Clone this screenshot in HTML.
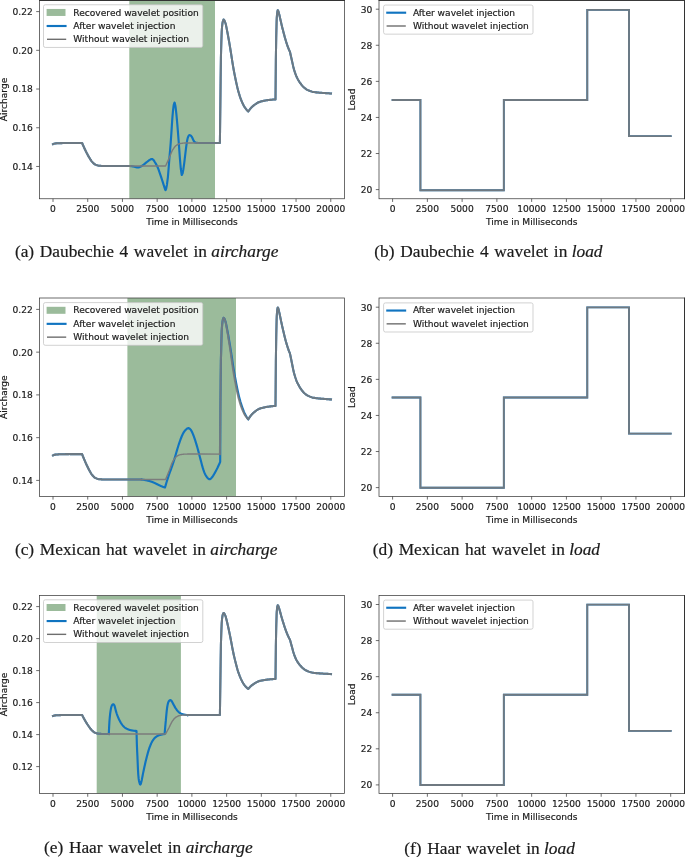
<!DOCTYPE html>
<html lang="en"><head><meta charset="utf-8"><title>Wavelet injection figures</title>
<style>
html,body{margin:0;padding:0;background:#fff;}
#fig{position:relative;width:685px;height:857px;overflow:hidden;background:#fff;}
svg .t, svg g.t text{font-family:"DejaVu Sans","Liberation Sans",sans-serif;font-size:9.1px;fill:#1a1a1a;stroke:#1a1a1a;stroke-width:0.18px;}
.cap{position:absolute;white-space:nowrap;font-family:"Liberation Serif","Times New Roman",serif;font-size:17.35px;line-height:20px;color:#1a1a1a;-webkit-text-stroke:0.2px #1a1a1a;word-spacing:1.3px;}
.cap i{font-style:italic;margin-left:-1.3px;}
</style></head><body><div id="fig">
<svg width="685" height="857" viewBox="0 0 685 857" style="position:absolute;left:0;top:0">
<defs>
<clipPath id="cl0"><rect x="39.4" y="0.45" width="305.20" height="198.30"/></clipPath>
<clipPath id="cl1"><rect x="39.4" y="298.0" width="305.20" height="198.40"/></clipPath>
<clipPath id="cl2"><rect x="39.4" y="595.5" width="305.20" height="198.05"/></clipPath>
</defs>
<g clip-path="url(#cl0)">
<rect x="129.3" y="0.45" width="85.70" height="198.30" fill="#9bbb9b"/>
<path d="M53.00 144.20L53.75 143.84L54.49 143.60L54.50 143.60L55.24 143.48L55.98 143.38L56.73 143.32L57.00 143.30L57.48 143.27L58.22 143.23L58.97 143.19L59.72 143.16L60.46 143.14L61.21 143.12L61.95 143.10L62.00 143.10L62.70 143.09L63.45 143.07L64.19 143.06L64.94 143.05L65.68 143.03L66.43 143.02L67.18 143.02L67.92 143.01L68.67 143.00L69.42 143.00L70.00 143.00L70.16 143.00L70.91 143.00L71.65 143.00L72.40 143.00L73.15 143.00L73.89 143.00L74.64 143.00L75.38 143.00L76.13 143.00L76.88 143.00L77.62 143.00L78.37 143.00L79.12 143.00L79.86 143.00L80.61 143.00L81.35 143.00L82.10 143.00L82.94 145.00L83.79 146.92L84.63 148.77L85.47 150.54L85.90 151.40L86.32 152.23L87.16 153.85L88.01 155.40L88.85 156.87L89.40 157.80L89.69 158.29L90.54 159.67L91.38 160.90L91.70 161.30L92.22 161.90L93.07 162.83L93.91 163.64L94.75 164.27L95.20 164.50L95.60 164.67L96.44 165.00L97.28 165.29L98.13 165.52L98.97 165.69L99.82 165.79L99.90 165.80L100.66 165.85L101.50 165.90L102.35 165.94L103.19 165.97L104.03 165.99L104.88 166.00L105.00 166.00L105.72 166.00L106.56 166.00L107.41 166.00L108.25 166.00L109.09 166.00L109.94 166.00L110.78 166.00L111.63 166.00L112.47 166.00L113.31 166.00L114.16 166.00L115.00 166.00L130.00 166.05" fill="none" stroke="#1074c0" stroke-width="2.05" stroke-linejoin="round" stroke-linecap="square"/>
<path d="M198.00 142.95L198.24 142.95L199.12 142.95L200.00 142.95L219.90 143.00L220.40 100.40L220.63 79.08L220.90 58.00L221.30 43.40L221.36 41.54L221.70 31.80L222.08 26.40L222.50 23.00L222.81 21.50L223.54 19.51L223.60 19.50L224.27 20.17L225.00 21.89L225.40 23.00L225.73 24.06L226.45 27.38L227.18 31.20L227.30 31.80L227.91 34.96L228.64 38.96L229.37 43.12L229.50 43.90L230.09 47.47L230.82 52.03L231.20 54.40L231.55 56.65L232.28 61.43L233.00 65.90L233.01 65.94L233.74 70.03L234.46 73.88L235.19 77.52L235.50 79.00L235.92 81.00L236.65 84.39L237.38 87.60L238.11 90.49L238.30 91.20L238.83 93.04L239.56 95.41L240.29 97.58L241.02 99.56L241.60 101.00L241.75 101.34L242.47 102.99L243.20 104.52L243.93 105.91L244.66 107.13L244.90 107.50L245.39 108.20L246.12 109.19L246.84 110.08L247.57 110.86L248.30 111.50L249.00 110.48L249.69 109.52L250.39 108.63L251.09 107.83L251.40 107.50L251.79 107.11L252.48 106.46L253.18 105.87L253.88 105.31L254.58 104.79L254.70 104.70L255.27 104.28L255.97 103.79L256.67 103.31L257.37 102.87L258.06 102.49L258.70 102.20L258.76 102.18L259.46 101.92L260.16 101.69L260.85 101.49L261.55 101.31L262.00 101.20L262.25 101.14L262.95 100.99L263.64 100.84L264.34 100.69L265.04 100.56L265.74 100.44L266.43 100.32L267.13 100.22L267.83 100.12L268.00 100.10L268.53 100.03L269.22 99.95L269.92 99.87L270.62 99.79L271.32 99.72L272.01 99.65L272.71 99.58L273.41 99.53L274.11 99.48L274.80 99.43L275.50 99.40L275.85 59.90L275.87 58.24L276.24 36.59L276.27 35.40L276.62 21.19L276.76 17.90L276.99 15.11L277.36 11.75L277.73 10.24L277.80 10.20L278.10 10.52L278.47 11.59L278.85 13.04L279.20 14.40L279.22 14.46L279.59 15.88L279.96 17.47L280.33 19.16L280.71 20.87L281.08 22.55L281.30 23.50L281.45 24.12L281.82 25.65L282.19 27.16L282.56 28.64L282.94 30.11L283.31 31.55L283.40 31.90L283.68 32.97L284.05 34.38L284.42 35.79L284.79 37.16L285.17 38.51L285.54 39.80L285.90 41.00L285.91 41.03L286.28 42.22L286.65 43.37L287.03 44.48L287.40 45.55L287.77 46.59L288.14 47.58L288.30 48.00L288.51 48.54L288.88 49.47L289.26 50.35L289.63 51.19L290.00 52.00L291.05 56.70L291.80 60.00L292.10 61.35L293.15 66.15L294.00 69.50L294.21 70.19L295.26 73.43L296.31 76.14L296.60 76.80L297.36 78.37L298.41 80.28L299.46 81.95L299.90 82.60L300.51 83.47L301.56 84.87L302.62 86.12L303.50 87.00L303.67 87.15L304.72 88.04L305.77 88.85L306.82 89.53L307.87 90.09L307.90 90.10L308.92 90.55L309.97 90.96L311.03 91.33L312.08 91.64L313.13 91.89L313.70 92.00L314.18 92.08L315.23 92.23L316.28 92.36L317.33 92.48L318.38 92.58L319.44 92.67L320.49 92.76L321.00 92.80L321.54 92.84L322.59 92.92L323.64 92.99L324.69 93.06L325.74 93.12L326.79 93.19L326.90 93.20L327.85 93.27L328.90 93.34L329.95 93.42L331.00 93.50" fill="none" stroke="#1074c0" stroke-width="2.05" stroke-linejoin="round" stroke-linecap="square"/>
<path d="M130.00 166.05L130.86 166.11L131.72 166.23L132.58 166.39L133.44 166.57L134.00 166.70L134.30 166.77L135.16 166.98L136.03 167.18L136.89 167.34L137.75 167.41L138.20 167.40L138.61 167.36L139.47 167.13L140.33 166.76L141.19 166.29L141.70 166.00L142.05 165.78L142.91 165.18L143.77 164.50L144.63 163.80L145.49 163.10L145.50 163.10L146.35 162.43L147.22 161.74L148.08 161.07L148.94 160.45L149.30 160.20L149.80 159.87L150.66 159.34L151.52 159.01L152.20 159.00L152.38 159.05L153.24 159.75L154.10 160.93L154.96 162.29L155.10 162.50L155.82 163.64L156.68 165.17L157.10 166.00L157.54 166.98L158.41 169.14L159.27 171.54L160.13 174.09L160.99 176.68L161.50 178.20L161.85 179.23L162.71 181.86L163.57 184.56L164.30 186.90L164.43 187.33L165.29 189.87L165.60 190.10L166.15 188.82L166.90 184.90L167.01 184.22L167.87 177.36L167.90 177.10L168.73 167.02L169.50 156.90L169.59 155.75L170.46 145.79L170.75 142.10L171.32 133.85L172.18 120.65L172.50 116.40L173.04 110.43L173.60 105.90L173.90 104.26L174.50 102.60L174.76 102.96L175.40 105.90L175.62 107.35L176.48 115.19L176.60 116.40L177.34 124.60L178.20 135.30L178.90 144.40L179.06 146.58L179.92 158.55L180.70 167.70L180.78 168.51L181.65 174.70L181.80 175.00L182.51 173.63L182.80 172.40L183.37 169.24L183.60 167.70L184.23 163.03L185.09 155.77L185.90 149.10L185.95 148.72L186.81 142.36L187.40 139.20L187.67 138.21L188.53 135.96L189.39 135.10L189.40 135.10L190.25 135.25L191.11 135.94L191.80 136.80L191.97 137.07L192.84 138.92L193.70 140.85L194.10 141.50L194.56 142.00L195.42 142.59L195.80 142.70L196.28 142.76L197.14 142.83L198.00 142.95" fill="none" stroke="#1074c0" stroke-width="2.15" stroke-linejoin="round" stroke-linecap="butt"/>
<path d="M130.00 166.00L165.60 166.00L166.48 164.06L167.36 162.10L168.25 160.12L169.00 158.40L169.13 158.10L170.01 155.92L170.89 153.68L171.77 151.61L172.50 150.20L172.66 149.94L173.54 148.53L174.42 147.27L175.30 146.23L176.00 145.60L176.18 145.46L177.07 144.83L177.95 144.29L178.83 143.89L179.50 143.70L179.71 143.66L180.59 143.49L181.48 143.34L182.36 143.21L183.24 143.12L184.12 143.05L185.01 143.01L185.30 143.00L185.89 142.99L186.77 142.98L187.65 142.97L188.53 142.96L189.42 142.96L190.30 142.95L191.18 142.95L192.00 142.95L192.06 142.95L192.94 142.95L193.83 142.95L194.71 142.95L195.59 142.95L196.47 142.95L197.35 142.95L198.00 142.95" fill="none" stroke="#7c7c7c" stroke-width="1.4" stroke-linejoin="round" stroke-linecap="round"/>
<path d="M53.00 144.20L53.75 143.84L54.49 143.60L54.50 143.60L55.24 143.48L55.98 143.38L56.73 143.32L57.00 143.30L57.48 143.27L58.22 143.23L58.97 143.19L59.72 143.16L60.46 143.14L61.21 143.12L61.95 143.10L62.00 143.10L62.70 143.09L63.45 143.07L64.19 143.06L64.94 143.05L65.68 143.03L66.43 143.02L67.18 143.02L67.92 143.01L68.67 143.00L69.42 143.00L70.00 143.00L70.16 143.00L70.91 143.00L71.65 143.00L72.40 143.00L73.15 143.00L73.89 143.00L74.64 143.00L75.38 143.00L76.13 143.00L76.88 143.00L77.62 143.00L78.37 143.00L79.12 143.00L79.86 143.00L80.61 143.00L81.35 143.00L82.10 143.00L82.94 145.00L83.79 146.92L84.63 148.77L85.47 150.54L85.90 151.40L86.32 152.23L87.16 153.85L88.01 155.40L88.85 156.87L89.40 157.80L89.69 158.29L90.54 159.67L91.38 160.90L91.70 161.30L92.22 161.90L93.07 162.83L93.91 163.64L94.75 164.27L95.20 164.50L95.60 164.67L96.44 165.00L97.28 165.29L98.13 165.52L98.97 165.69L99.82 165.79L99.90 165.80L100.66 165.85L101.50 165.90L102.35 165.94L103.19 165.97L104.03 165.99L104.88 166.00L105.00 166.00L105.72 166.00L106.56 166.00L107.41 166.00L108.25 166.00L109.09 166.00L109.94 166.00L110.78 166.00L111.63 166.00L112.47 166.00L113.31 166.00L114.16 166.00L115.00 166.00L130.00 166.00" fill="none" stroke="#7a7a7a" stroke-opacity="0.87" stroke-width="2.05" stroke-linejoin="round" stroke-linecap="square"/>
<path d="M198.00 142.95L198.24 142.95L199.12 142.95L200.00 142.95L219.90 143.00L220.40 100.40L220.63 79.08L220.90 58.00L221.30 43.40L221.36 41.54L221.70 31.80L222.08 26.40L222.50 23.00L222.81 21.50L223.54 19.51L223.60 19.50L224.27 20.17L225.00 21.89L225.40 23.00L225.73 24.06L226.45 27.38L227.18 31.20L227.30 31.80L227.91 34.96L228.64 38.96L229.37 43.12L229.50 43.90L230.09 47.47L230.82 52.03L231.20 54.40L231.55 56.65L232.28 61.43L233.00 65.90L233.01 65.94L233.74 70.03L234.46 73.88L235.19 77.52L235.50 79.00L235.92 81.00L236.65 84.39L237.38 87.60L238.11 90.49L238.30 91.20L238.83 93.04L239.56 95.41L240.29 97.58L241.02 99.56L241.60 101.00L241.75 101.34L242.47 102.99L243.20 104.52L243.93 105.91L244.66 107.13L244.90 107.50L245.39 108.20L246.12 109.19L246.84 110.08L247.57 110.86L248.30 111.50L249.00 110.48L249.69 109.52L250.39 108.63L251.09 107.83L251.40 107.50L251.79 107.11L252.48 106.46L253.18 105.87L253.88 105.31L254.58 104.79L254.70 104.70L255.27 104.28L255.97 103.79L256.67 103.31L257.37 102.87L258.06 102.49L258.70 102.20L258.76 102.18L259.46 101.92L260.16 101.69L260.85 101.49L261.55 101.31L262.00 101.20L262.25 101.14L262.95 100.99L263.64 100.84L264.34 100.69L265.04 100.56L265.74 100.44L266.43 100.32L267.13 100.22L267.83 100.12L268.00 100.10L268.53 100.03L269.22 99.95L269.92 99.87L270.62 99.79L271.32 99.72L272.01 99.65L272.71 99.58L273.41 99.53L274.11 99.48L274.80 99.43L275.50 99.40L275.85 59.90L275.87 58.24L276.24 36.59L276.27 35.40L276.62 21.19L276.76 17.90L276.99 15.11L277.36 11.75L277.73 10.24L277.80 10.20L278.10 10.52L278.47 11.59L278.85 13.04L279.20 14.40L279.22 14.46L279.59 15.88L279.96 17.47L280.33 19.16L280.71 20.87L281.08 22.55L281.30 23.50L281.45 24.12L281.82 25.65L282.19 27.16L282.56 28.64L282.94 30.11L283.31 31.55L283.40 31.90L283.68 32.97L284.05 34.38L284.42 35.79L284.79 37.16L285.17 38.51L285.54 39.80L285.90 41.00L285.91 41.03L286.28 42.22L286.65 43.37L287.03 44.48L287.40 45.55L287.77 46.59L288.14 47.58L288.30 48.00L288.51 48.54L288.88 49.47L289.26 50.35L289.63 51.19L290.00 52.00L291.05 56.70L291.80 60.00L292.10 61.35L293.15 66.15L294.00 69.50L294.21 70.19L295.26 73.43L296.31 76.14L296.60 76.80L297.36 78.37L298.41 80.28L299.46 81.95L299.90 82.60L300.51 83.47L301.56 84.87L302.62 86.12L303.50 87.00L303.67 87.15L304.72 88.04L305.77 88.85L306.82 89.53L307.87 90.09L307.90 90.10L308.92 90.55L309.97 90.96L311.03 91.33L312.08 91.64L313.13 91.89L313.70 92.00L314.18 92.08L315.23 92.23L316.28 92.36L317.33 92.48L318.38 92.58L319.44 92.67L320.49 92.76L321.00 92.80L321.54 92.84L322.59 92.92L323.64 92.99L324.69 93.06L325.74 93.12L326.79 93.19L326.90 93.20L327.85 93.27L328.90 93.34L329.95 93.42L331.00 93.50" fill="none" stroke="#7a7a7a" stroke-opacity="0.87" stroke-width="2.05" stroke-linejoin="round" stroke-linecap="square"/>
</g>
<rect x="43.50" y="4.75" width="159.3" height="42.70" rx="1.8" fill="#fff" fill-opacity="0.8" stroke="#c4c4c4" stroke-opacity="0.85" stroke-width="0.9"/>
<rect x="46.60" y="8.95" width="18.9" height="7.0" fill="#9bbb9b"/>
<text class="t" x="73.30" y="15.60">Recovered wavelet position</text>
<line x1="47.70" x2="65.50" y1="26.00" y2="26.00" stroke="#1074c0" stroke-width="2.15" stroke-linecap="square"/>
<text class="t" x="73.30" y="28.90">After wavelet injection</text>
<line x1="47.70" x2="65.50" y1="39.30" y2="39.30" stroke="#6e6e6e" stroke-width="1.4" stroke-linecap="square"/>
<text class="t" x="73.30" y="42.20">Without wavelet injection</text>
<rect x="39.4" y="0.45" width="305.20" height="198.30" fill="none" stroke="#3c3c3c" stroke-width="0.75"/>
<line x1="39.00" x2="345.00" y1="0.5" y2="0.5" stroke="#333" stroke-width="1"/>
<line x1="378.60" x2="685" y1="0.5" y2="0.5" stroke="#333" stroke-width="1"/>
<g stroke="#3c3c3c" stroke-width="0.75">
<line x1="53.00" x2="53.00" y1="198.75" y2="201.95"/>
<line x1="87.72" x2="87.72" y1="198.75" y2="201.95"/>
<line x1="122.45" x2="122.45" y1="198.75" y2="201.95"/>
<line x1="157.17" x2="157.17" y1="198.75" y2="201.95"/>
<line x1="191.89" x2="191.89" y1="198.75" y2="201.95"/>
<line x1="226.61" x2="226.61" y1="198.75" y2="201.95"/>
<line x1="261.34" x2="261.34" y1="198.75" y2="201.95"/>
<line x1="296.06" x2="296.06" y1="198.75" y2="201.95"/>
<line x1="330.78" x2="330.78" y1="198.75" y2="201.95"/>
<line x1="36.20" x2="39.4" y1="166.46" y2="166.46"/>
<line x1="36.20" x2="39.4" y1="127.75" y2="127.75"/>
<line x1="36.20" x2="39.4" y1="89.03" y2="89.03"/>
<line x1="36.20" x2="39.4" y1="50.32" y2="50.32"/>
<line x1="36.20" x2="39.4" y1="11.60" y2="11.60"/>
</g>
<g class="t">
<text x="53.00" y="212.25" text-anchor="middle">0</text>
<text x="87.72" y="212.25" text-anchor="middle">2500</text>
<text x="122.45" y="212.25" text-anchor="middle">5000</text>
<text x="157.17" y="212.25" text-anchor="middle">7500</text>
<text x="191.89" y="212.25" text-anchor="middle">10000</text>
<text x="226.61" y="212.25" text-anchor="middle">12500</text>
<text x="261.34" y="212.25" text-anchor="middle">15000</text>
<text x="296.06" y="212.25" text-anchor="middle">17500</text>
<text x="330.78" y="212.25" text-anchor="middle">20000</text>
<text x="32.80" y="169.91" text-anchor="end">0.14</text>
<text x="32.80" y="131.19" text-anchor="end">0.16</text>
<text x="32.80" y="92.48" text-anchor="end">0.18</text>
<text x="32.80" y="53.77" text-anchor="end">0.20</text>
<text x="32.80" y="15.05" text-anchor="end">0.22</text>
<text x="192.00" y="224.65" text-anchor="middle">Time in Milliseconds</text>
<text transform="translate(7.0 99.50) rotate(-90)" text-anchor="middle">Aircharge</text>
</g>
<path d="M392.60 100.00L420.41 100.00L420.41 190.20L503.84 190.20L503.84 100.00L587.27 100.00L587.27 9.80L628.99 9.80L628.99 136.08L670.70 136.08" fill="none" stroke="#1074c0" stroke-width="1.85" stroke-linejoin="miter" stroke-linecap="square"/>
<path d="M392.60 100.00L420.41 100.00L420.41 190.20L503.84 190.20L503.84 100.00L587.27 100.00L587.27 9.80L628.99 9.80L628.99 136.08L670.70 136.08" fill="none" stroke="#7a7a7a" stroke-opacity="0.9" stroke-width="1.85" stroke-linejoin="miter" stroke-linecap="square"/>
<rect x="383.60" y="5.05" width="149.4" height="29.10" rx="1.8" fill="#fff" fill-opacity="0.8" stroke="#c4c4c4" stroke-opacity="0.85" stroke-width="0.9"/>
<line x1="387.30" x2="405.10" y1="12.70" y2="12.70" stroke="#1074c0" stroke-width="2.15" stroke-linecap="square"/>
<text class="t" x="412.90" y="15.60">After wavelet injection</text>
<line x1="387.30" x2="405.10" y1="26.00" y2="26.00" stroke="#6e6e6e" stroke-width="1.4" stroke-linecap="square"/>
<text class="t" x="412.90" y="28.90">Without wavelet injection</text>
<rect x="379.0" y="0.45" width="305.50" height="198.30" fill="none" stroke="#3c3c3c" stroke-width="0.75"/>
<line x1="684.5" x2="684.5" y1="0.05" y2="199.15" stroke="#333" stroke-width="1"/>
<g stroke="#3c3c3c" stroke-width="0.75">
<line x1="392.60" x2="392.60" y1="198.75" y2="201.95"/>
<line x1="427.36" x2="427.36" y1="198.75" y2="201.95"/>
<line x1="462.12" x2="462.12" y1="198.75" y2="201.95"/>
<line x1="496.89" x2="496.89" y1="198.75" y2="201.95"/>
<line x1="531.65" x2="531.65" y1="198.75" y2="201.95"/>
<line x1="566.41" x2="566.41" y1="198.75" y2="201.95"/>
<line x1="601.18" x2="601.18" y1="198.75" y2="201.95"/>
<line x1="635.94" x2="635.94" y1="198.75" y2="201.95"/>
<line x1="670.70" x2="670.70" y1="198.75" y2="201.95"/>
<line x1="375.80" x2="379.0" y1="189.60" y2="189.60"/>
<line x1="375.80" x2="379.0" y1="153.52" y2="153.52"/>
<line x1="375.80" x2="379.0" y1="117.44" y2="117.44"/>
<line x1="375.80" x2="379.0" y1="81.36" y2="81.36"/>
<line x1="375.80" x2="379.0" y1="45.28" y2="45.28"/>
<line x1="375.80" x2="379.0" y1="9.20" y2="9.20"/>
</g>
<g class="t">
<text x="392.60" y="212.25" text-anchor="middle">0</text>
<text x="427.36" y="212.25" text-anchor="middle">2500</text>
<text x="462.12" y="212.25" text-anchor="middle">5000</text>
<text x="496.89" y="212.25" text-anchor="middle">7500</text>
<text x="531.65" y="212.25" text-anchor="middle">10000</text>
<text x="566.41" y="212.25" text-anchor="middle">12500</text>
<text x="601.18" y="212.25" text-anchor="middle">15000</text>
<text x="635.94" y="212.25" text-anchor="middle">17500</text>
<text x="670.70" y="212.25" text-anchor="middle">20000</text>
<text x="372.40" y="193.05" text-anchor="end">20</text>
<text x="372.40" y="156.97" text-anchor="end">22</text>
<text x="372.40" y="120.89" text-anchor="end">24</text>
<text x="372.40" y="84.81" text-anchor="end">26</text>
<text x="372.40" y="48.73" text-anchor="end">28</text>
<text x="372.40" y="12.65" text-anchor="end">30</text>
<text x="531.75" y="224.65" text-anchor="middle">Time in Milliseconds</text>
<text transform="translate(355.1 99.50) rotate(-90)" text-anchor="middle">Load</text>
</g>
<g clip-path="url(#cl1)">
<rect x="127.4" y="298.0" width="108.60" height="198.40" fill="#9bbb9b"/>
<path d="M53.00 455.43L53.75 455.04L54.49 454.77L54.50 454.77L55.24 454.63L55.98 454.53L56.73 454.46L57.00 454.44L57.48 454.40L58.22 454.36L58.97 454.32L59.72 454.29L60.46 454.26L61.21 454.23L61.95 454.22L62.00 454.21L62.70 454.20L63.45 454.18L64.19 454.17L64.94 454.15L65.68 454.14L66.43 454.13L67.18 454.12L67.92 454.11L68.67 454.11L69.42 454.10L70.00 454.10L70.16 454.10L70.91 454.10L71.65 454.10L72.40 454.10L73.15 454.10L73.89 454.10L74.64 454.10L75.38 454.10L76.13 454.10L76.88 454.10L77.62 454.10L78.37 454.10L79.12 454.10L79.86 454.10L80.61 454.10L81.35 454.10L82.10 454.10L82.94 456.31L83.79 458.43L84.63 460.48L85.47 462.43L85.90 463.38L86.32 464.29L87.16 466.08L88.01 467.79L88.85 469.42L89.40 470.45L89.69 470.98L90.54 472.51L91.38 473.87L91.70 474.31L92.22 474.98L93.07 476.00L93.91 476.90L94.75 477.59L95.20 477.84L95.60 478.03L96.44 478.40L97.28 478.71L98.13 478.97L98.97 479.16L99.82 479.27L99.90 479.28L100.66 479.34L101.50 479.39L102.35 479.43L103.19 479.47L104.03 479.49L104.88 479.50L105.00 479.50L105.72 479.50L106.56 479.50L107.41 479.50L108.25 479.50L109.09 479.50L109.94 479.50L110.78 479.50L111.63 479.50L112.47 479.50L113.31 479.50L114.16 479.50L115.00 479.50L140.90 479.43" fill="none" stroke="#1074c0" stroke-width="2.05" stroke-linejoin="round" stroke-linecap="square"/>
<path d="M248.30 419.32L249.00 418.19L249.69 417.13L250.39 416.15L251.09 415.27L251.40 414.90L251.79 414.48L252.48 413.76L253.18 413.10L253.88 412.49L254.58 411.91L254.70 411.81L255.27 411.35L255.97 410.80L256.67 410.28L257.37 409.79L258.06 409.37L258.70 409.05L258.76 409.02L259.46 408.74L260.16 408.49L260.85 408.26L261.55 408.07L262.00 407.95L262.25 407.88L262.95 407.71L263.64 407.55L264.34 407.39L265.04 407.24L265.74 407.11L266.43 406.98L267.13 406.86L267.83 406.76L268.00 406.73L268.53 406.66L269.22 406.57L269.92 406.48L270.62 406.39L271.32 406.31L272.01 406.23L272.71 406.16L273.41 406.10L274.11 406.05L274.80 406.00L275.50 405.96L275.85 362.34L275.87 360.50L276.24 336.61L276.27 335.29L276.62 319.60L276.76 315.97L276.99 312.89L277.36 309.17L277.73 307.51L277.80 307.46L278.10 307.82L278.47 309.00L278.85 310.60L279.20 312.10L279.22 312.17L279.59 313.74L279.96 315.49L280.33 317.36L280.71 319.25L281.08 321.10L281.30 322.15L281.45 322.83L281.82 324.52L282.19 326.19L282.56 327.83L282.94 329.45L283.31 331.03L283.40 331.42L283.68 332.60L284.05 334.17L284.42 335.72L284.79 337.24L285.17 338.72L285.54 340.15L285.90 341.47L285.91 341.51L286.28 342.82L286.65 344.09L287.03 345.31L287.40 346.50L287.77 347.64L288.14 348.74L288.30 349.20L288.51 349.80L288.88 350.82L289.26 351.80L289.63 352.73L290.00 353.62L291.05 358.81L291.80 362.45L292.10 363.95L293.15 369.24L294.00 372.94L294.21 373.71L295.26 377.28L296.31 380.28L296.60 381.00L297.36 382.73L298.41 384.84L299.46 386.70L299.90 387.41L300.51 388.37L301.56 389.92L302.62 391.29L303.50 392.27L303.67 392.43L304.72 393.42L305.77 394.31L306.82 395.06L307.87 395.68L307.90 395.69L308.92 396.18L309.97 396.65L311.03 397.05L312.08 397.40L313.13 397.67L313.70 397.79L314.18 397.87L315.23 398.04L316.28 398.19L317.33 398.31L318.38 398.43L319.44 398.53L320.49 398.63L321.00 398.67L321.54 398.72L322.59 398.80L323.64 398.88L324.69 398.95L325.74 399.03L326.79 399.11L326.90 399.11L327.85 399.19L328.90 399.27L329.95 399.36L331.00 399.45" fill="none" stroke="#1074c0" stroke-width="2.05" stroke-linejoin="round" stroke-linecap="square"/>
<path d="M140.90 479.43L141.21 479.47L141.51 479.50L141.82 479.54L142.12 479.58L142.43 479.63L142.73 479.67L143.04 479.71L143.34 479.76L143.65 479.81L143.95 479.86L144.26 479.91L144.56 479.96L144.87 480.02L145.17 480.07L145.48 480.13L145.78 480.19L146.00 480.23L146.09 480.25L146.39 480.31L146.70 480.37L147.00 480.44L147.31 480.51L147.61 480.58L147.92 480.66L148.22 480.73L148.53 480.81L148.83 480.89L149.14 480.98L149.44 481.07L149.75 481.15L150.05 481.25L150.36 481.34L150.66 481.44L150.97 481.54L151.27 481.64L151.58 481.74L151.88 481.85L152.10 481.93L152.19 481.96L152.49 482.08L152.80 482.20L153.10 482.32L153.41 482.45L153.71 482.58L154.02 482.71L154.32 482.85L154.63 482.99L154.93 483.14L155.24 483.28L155.54 483.43L155.85 483.58L156.15 483.73L156.46 483.88L156.76 484.03L157.07 484.18L157.37 484.33L157.68 484.48L157.98 484.63L158.29 484.78L158.59 484.93L158.90 485.08L159.20 485.22L159.51 485.36L159.81 485.50L160.10 485.63L160.12 485.64L160.42 485.77L160.73 485.90L161.03 486.04L161.34 486.16L161.64 486.29L161.95 486.42L162.25 486.54L162.56 486.66L162.86 486.78L163.17 486.89L163.47 487.01L163.78 487.12L164.08 487.22L164.39 487.33L164.69 487.43L165.00 487.53L165.70 485.11L166.40 482.78L167.10 480.53L167.79 478.36L168.20 477.13L168.49 476.26L169.19 474.23L169.89 472.26L170.59 470.31L171.29 468.36L171.99 466.40L172.69 464.39L173.38 462.31L173.80 461.03L174.08 460.13L174.78 457.84L175.48 455.46L176.18 453.04L176.88 450.63L177.58 448.28L178.28 446.03L178.60 445.03L178.97 443.90L179.67 441.85L180.37 439.87L181.07 438.00L181.77 436.27L182.47 434.71L183.17 433.34L183.40 432.93L183.87 432.17L184.56 431.15L185.26 430.29L185.90 429.63L185.96 429.57L186.66 428.95L187.36 428.44L188.06 428.16L188.30 428.13L188.76 428.19L189.46 428.53L190.15 429.13L190.70 429.73L190.85 429.92L191.55 431.07L192.25 432.53L192.95 434.17L193.10 434.53L193.65 435.92L194.35 437.84L195.05 439.91L195.74 442.10L196.44 444.40L197.10 446.63L197.14 446.77L197.84 449.27L198.54 451.90L199.24 454.59L199.94 457.26L200.30 458.63L200.64 459.89L201.33 462.55L202.03 465.17L202.73 467.66L203.43 469.94L204.13 471.91L204.30 472.33L204.83 473.54L205.53 474.96L206.23 476.17L206.92 477.17L207.50 477.83L207.62 477.96L208.32 478.62L209.02 479.09L209.60 479.23L209.72 479.22L210.42 478.94L211.12 478.36L211.80 477.63L211.82 477.61L212.51 476.73L213.21 475.67L213.91 474.51L214.61 473.29L214.70 473.13L215.31 472.04L216.01 470.74L216.71 469.38L217.41 467.98L218.10 466.52L218.80 465.03L218.80 465.02L219.50 463.46L220.20 461.83L220.40 407.06L220.63 383.52L220.90 360.25L221.30 344.12L221.36 342.07L221.70 331.31L222.08 325.35L222.50 321.60L222.81 319.94L223.54 317.75L223.60 317.73L224.30 318.47L225.06 320.37L225.49 321.60L225.84 322.77L226.61 326.44L227.39 330.65L227.51 331.31L228.16 334.81L228.94 339.22L229.72 343.82L229.87 344.68L230.50 348.62L231.28 353.65L231.69 356.27L232.06 358.76L232.84 364.04L233.61 368.97L233.61 369.02L234.39 373.53L235.16 377.78L235.92 381.80L236.24 383.43L236.68 385.64L237.44 389.39L238.19 392.93L238.93 396.12L239.13 396.91L239.67 398.94L240.39 401.55L241.11 403.95L241.82 406.13L242.38 407.73L242.52 408.11L243.22 409.93L243.90 411.62L244.57 413.15L245.23 414.50L245.44 414.90L245.88 415.68L246.51 416.77L247.14 417.76L247.74 418.62L248.30 419.32" fill="none" stroke="#1074c0" stroke-width="2.15" stroke-linejoin="round" stroke-linecap="butt"/>
<path d="M140.90 479.50L165.60 479.50L166.48 477.36L167.36 475.20L168.25 473.00L169.00 471.11L169.13 470.78L170.01 468.38L170.89 465.90L171.77 463.61L172.50 462.05L172.66 461.77L173.54 460.21L174.42 458.82L175.30 457.67L176.00 456.98L176.18 456.82L177.07 456.12L177.95 455.53L178.83 455.09L179.50 454.88L179.71 454.83L180.59 454.64L181.48 454.48L182.36 454.34L183.24 454.23L184.12 454.15L185.01 454.11L185.30 454.10L185.89 454.10L186.77 454.08L187.65 454.07L188.53 454.06L189.42 454.06L190.30 454.05L191.18 454.05L192.00 454.05L192.06 454.05L192.94 454.05L193.83 454.05L194.71 454.05L195.59 454.05L196.47 454.05L197.35 454.05L198.24 454.05L199.12 454.05L200.00 454.05L219.90 454.10" fill="none" stroke="#7c7c7c" stroke-width="1.4" stroke-linejoin="round" stroke-linecap="round"/>
<path d="M53.00 455.43L53.75 455.04L54.49 454.77L54.50 454.77L55.24 454.63L55.98 454.53L56.73 454.46L57.00 454.44L57.48 454.40L58.22 454.36L58.97 454.32L59.72 454.29L60.46 454.26L61.21 454.23L61.95 454.22L62.00 454.21L62.70 454.20L63.45 454.18L64.19 454.17L64.94 454.15L65.68 454.14L66.43 454.13L67.18 454.12L67.92 454.11L68.67 454.11L69.42 454.10L70.00 454.10L70.16 454.10L70.91 454.10L71.65 454.10L72.40 454.10L73.15 454.10L73.89 454.10L74.64 454.10L75.38 454.10L76.13 454.10L76.88 454.10L77.62 454.10L78.37 454.10L79.12 454.10L79.86 454.10L80.61 454.10L81.35 454.10L82.10 454.10L82.94 456.31L83.79 458.43L84.63 460.48L85.47 462.43L85.90 463.38L86.32 464.29L87.16 466.08L88.01 467.79L88.85 469.42L89.40 470.45L89.69 470.98L90.54 472.51L91.38 473.87L91.70 474.31L92.22 474.98L93.07 476.00L93.91 476.90L94.75 477.59L95.20 477.84L95.60 478.03L96.44 478.40L97.28 478.71L98.13 478.97L98.97 479.16L99.82 479.27L99.90 479.28L100.66 479.34L101.50 479.39L102.35 479.43L103.19 479.47L104.03 479.49L104.88 479.50L105.00 479.50L105.72 479.50L106.56 479.50L107.41 479.50L108.25 479.50L109.09 479.50L109.94 479.50L110.78 479.50L111.63 479.50L112.47 479.50L113.31 479.50L114.16 479.50L115.00 479.50L140.90 479.50" fill="none" stroke="#7a7a7a" stroke-opacity="0.87" stroke-width="2.05" stroke-linejoin="round" stroke-linecap="square"/>
<path d="M219.90 454.10L220.40 407.06L220.63 383.52L220.90 360.25L221.30 344.12L221.36 342.07L221.70 331.31L222.08 325.35L222.50 321.60L222.81 319.94L223.54 317.75L223.60 317.73L224.27 318.47L225.00 320.37L225.40 321.60L225.73 322.77L226.45 326.44L227.18 330.65L227.30 331.31L227.91 334.81L228.64 339.22L229.37 343.82L229.50 344.68L230.09 348.62L230.82 353.65L231.20 356.27L231.55 358.76L232.28 364.04L233.00 368.97L233.01 369.02L233.74 373.53L234.46 377.78L235.19 381.80L235.50 383.43L235.92 385.64L236.65 389.39L237.38 392.93L238.11 396.12L238.30 396.91L238.83 398.94L239.56 401.55L240.29 403.95L241.02 406.13L241.60 407.73L241.75 408.11L242.47 409.93L243.20 411.62L243.93 413.15L244.66 414.50L244.90 414.90L245.39 415.68L246.12 416.77L246.84 417.76L247.57 418.62L248.30 419.32L249.00 418.19L249.69 417.13L250.39 416.15L251.09 415.27L251.40 414.90L251.79 414.48L252.48 413.76L253.18 413.10L253.88 412.49L254.58 411.91L254.70 411.81L255.27 411.35L255.97 410.80L256.67 410.28L257.37 409.79L258.06 409.37L258.70 409.05L258.76 409.02L259.46 408.74L260.16 408.49L260.85 408.26L261.55 408.07L262.00 407.95L262.25 407.88L262.95 407.71L263.64 407.55L264.34 407.39L265.04 407.24L265.74 407.11L266.43 406.98L267.13 406.86L267.83 406.76L268.00 406.73L268.53 406.66L269.22 406.57L269.92 406.48L270.62 406.39L271.32 406.31L272.01 406.23L272.71 406.16L273.41 406.10L274.11 406.05L274.80 406.00L275.50 405.96L275.85 362.34L275.87 360.50L276.24 336.61L276.27 335.29L276.62 319.60L276.76 315.97L276.99 312.89L277.36 309.17L277.73 307.51L277.80 307.46L278.10 307.82L278.47 309.00L278.85 310.60L279.20 312.10L279.22 312.17L279.59 313.74L279.96 315.49L280.33 317.36L280.71 319.25L281.08 321.10L281.30 322.15L281.45 322.83L281.82 324.52L282.19 326.19L282.56 327.83L282.94 329.45L283.31 331.03L283.40 331.42L283.68 332.60L284.05 334.17L284.42 335.72L284.79 337.24L285.17 338.72L285.54 340.15L285.90 341.47L285.91 341.51L286.28 342.82L286.65 344.09L287.03 345.31L287.40 346.50L287.77 347.64L288.14 348.74L288.30 349.20L288.51 349.80L288.88 350.82L289.26 351.80L289.63 352.73L290.00 353.62L291.05 358.81L291.80 362.45L292.10 363.95L293.15 369.24L294.00 372.94L294.21 373.71L295.26 377.28L296.31 380.28L296.60 381.00L297.36 382.73L298.41 384.84L299.46 386.70L299.90 387.41L300.51 388.37L301.56 389.92L302.62 391.29L303.50 392.27L303.67 392.43L304.72 393.42L305.77 394.31L306.82 395.06L307.87 395.68L307.90 395.69L308.92 396.18L309.97 396.65L311.03 397.05L312.08 397.40L313.13 397.67L313.70 397.79L314.18 397.87L315.23 398.04L316.28 398.19L317.33 398.31L318.38 398.43L319.44 398.53L320.49 398.63L321.00 398.67L321.54 398.72L322.59 398.80L323.64 398.88L324.69 398.95L325.74 399.03L326.79 399.11L326.90 399.11L327.85 399.19L328.90 399.27L329.95 399.36L331.00 399.45" fill="none" stroke="#7a7a7a" stroke-opacity="0.87" stroke-width="2.05" stroke-linejoin="round" stroke-linecap="square"/>
</g>
<rect x="43.50" y="302.60" width="159.3" height="42.70" rx="1.8" fill="#fff" fill-opacity="0.8" stroke="#c4c4c4" stroke-opacity="0.85" stroke-width="0.9"/>
<rect x="46.60" y="306.80" width="18.9" height="7.0" fill="#9bbb9b"/>
<text class="t" x="73.30" y="313.45">Recovered wavelet position</text>
<line x1="47.70" x2="65.50" y1="323.85" y2="323.85" stroke="#1074c0" stroke-width="2.15" stroke-linecap="square"/>
<text class="t" x="73.30" y="326.75">After wavelet injection</text>
<line x1="47.70" x2="65.50" y1="337.15" y2="337.15" stroke="#6e6e6e" stroke-width="1.4" stroke-linecap="square"/>
<text class="t" x="73.30" y="340.05">Without wavelet injection</text>
<rect x="39.4" y="298.0" width="305.20" height="198.40" fill="none" stroke="#3c3c3c" stroke-width="0.75"/>
<g stroke="#3c3c3c" stroke-width="0.75">
<line x1="53.00" x2="53.00" y1="496.4" y2="499.60"/>
<line x1="87.72" x2="87.72" y1="496.4" y2="499.60"/>
<line x1="122.45" x2="122.45" y1="496.4" y2="499.60"/>
<line x1="157.17" x2="157.17" y1="496.4" y2="499.60"/>
<line x1="191.89" x2="191.89" y1="496.4" y2="499.60"/>
<line x1="226.61" x2="226.61" y1="496.4" y2="499.60"/>
<line x1="261.34" x2="261.34" y1="496.4" y2="499.60"/>
<line x1="296.06" x2="296.06" y1="496.4" y2="499.60"/>
<line x1="330.78" x2="330.78" y1="496.4" y2="499.60"/>
<line x1="36.20" x2="39.4" y1="480.40" y2="480.40"/>
<line x1="36.20" x2="39.4" y1="437.65" y2="437.65"/>
<line x1="36.20" x2="39.4" y1="394.90" y2="394.90"/>
<line x1="36.20" x2="39.4" y1="352.15" y2="352.15"/>
<line x1="36.20" x2="39.4" y1="309.40" y2="309.40"/>
</g>
<g class="t">
<text x="53.00" y="510.10" text-anchor="middle">0</text>
<text x="87.72" y="510.10" text-anchor="middle">2500</text>
<text x="122.45" y="510.10" text-anchor="middle">5000</text>
<text x="157.17" y="510.10" text-anchor="middle">7500</text>
<text x="191.89" y="510.10" text-anchor="middle">10000</text>
<text x="226.61" y="510.10" text-anchor="middle">12500</text>
<text x="261.34" y="510.10" text-anchor="middle">15000</text>
<text x="296.06" y="510.10" text-anchor="middle">17500</text>
<text x="330.78" y="510.10" text-anchor="middle">20000</text>
<text x="32.80" y="483.85" text-anchor="end">0.14</text>
<text x="32.80" y="441.10" text-anchor="end">0.16</text>
<text x="32.80" y="398.35" text-anchor="end">0.18</text>
<text x="32.80" y="355.60" text-anchor="end">0.20</text>
<text x="32.80" y="312.85" text-anchor="end">0.22</text>
<text x="192.00" y="522.50" text-anchor="middle">Time in Milliseconds</text>
<text transform="translate(7.0 397.10) rotate(-90)" text-anchor="middle">Aircharge</text>
</g>
<path d="M392.60 397.50L420.41 397.50L420.41 487.70L503.84 487.70L503.84 397.50L587.27 397.50L587.27 307.30L628.99 307.30L628.99 433.58L670.70 433.58" fill="none" stroke="#1074c0" stroke-width="1.85" stroke-linejoin="miter" stroke-linecap="square"/>
<path d="M392.60 397.50L420.41 397.50L420.41 487.70L503.84 487.70L503.84 397.50L587.27 397.50L587.27 307.30L628.99 307.30L628.99 433.58L670.70 433.58" fill="none" stroke="#7a7a7a" stroke-opacity="0.9" stroke-width="1.85" stroke-linejoin="miter" stroke-linecap="square"/>
<rect x="383.60" y="302.90" width="149.4" height="29.10" rx="1.8" fill="#fff" fill-opacity="0.8" stroke="#c4c4c4" stroke-opacity="0.85" stroke-width="0.9"/>
<line x1="387.30" x2="405.10" y1="310.55" y2="310.55" stroke="#1074c0" stroke-width="2.15" stroke-linecap="square"/>
<text class="t" x="412.90" y="313.45">After wavelet injection</text>
<line x1="387.30" x2="405.10" y1="323.85" y2="323.85" stroke="#6e6e6e" stroke-width="1.4" stroke-linecap="square"/>
<text class="t" x="412.90" y="326.75">Without wavelet injection</text>
<rect x="379.0" y="298.0" width="305.50" height="198.40" fill="none" stroke="#3c3c3c" stroke-width="0.75"/>
<line x1="684.5" x2="684.5" y1="297.60" y2="496.80" stroke="#333" stroke-width="1"/>
<g stroke="#3c3c3c" stroke-width="0.75">
<line x1="392.60" x2="392.60" y1="496.4" y2="499.60"/>
<line x1="427.36" x2="427.36" y1="496.4" y2="499.60"/>
<line x1="462.12" x2="462.12" y1="496.4" y2="499.60"/>
<line x1="496.89" x2="496.89" y1="496.4" y2="499.60"/>
<line x1="531.65" x2="531.65" y1="496.4" y2="499.60"/>
<line x1="566.41" x2="566.41" y1="496.4" y2="499.60"/>
<line x1="601.18" x2="601.18" y1="496.4" y2="499.60"/>
<line x1="635.94" x2="635.94" y1="496.4" y2="499.60"/>
<line x1="670.70" x2="670.70" y1="496.4" y2="499.60"/>
<line x1="375.80" x2="379.0" y1="487.60" y2="487.60"/>
<line x1="375.80" x2="379.0" y1="451.52" y2="451.52"/>
<line x1="375.80" x2="379.0" y1="415.44" y2="415.44"/>
<line x1="375.80" x2="379.0" y1="379.36" y2="379.36"/>
<line x1="375.80" x2="379.0" y1="343.28" y2="343.28"/>
<line x1="375.80" x2="379.0" y1="307.20" y2="307.20"/>
</g>
<g class="t">
<text x="392.60" y="510.10" text-anchor="middle">0</text>
<text x="427.36" y="510.10" text-anchor="middle">2500</text>
<text x="462.12" y="510.10" text-anchor="middle">5000</text>
<text x="496.89" y="510.10" text-anchor="middle">7500</text>
<text x="531.65" y="510.10" text-anchor="middle">10000</text>
<text x="566.41" y="510.10" text-anchor="middle">12500</text>
<text x="601.18" y="510.10" text-anchor="middle">15000</text>
<text x="635.94" y="510.10" text-anchor="middle">17500</text>
<text x="670.70" y="510.10" text-anchor="middle">20000</text>
<text x="372.40" y="491.05" text-anchor="end">20</text>
<text x="372.40" y="454.97" text-anchor="end">22</text>
<text x="372.40" y="418.89" text-anchor="end">24</text>
<text x="372.40" y="382.81" text-anchor="end">26</text>
<text x="372.40" y="346.73" text-anchor="end">28</text>
<text x="372.40" y="310.65" text-anchor="end">30</text>
<text x="531.75" y="522.50" text-anchor="middle">Time in Milliseconds</text>
<text transform="translate(355.1 397.10) rotate(-90)" text-anchor="middle">Load</text>
</g>
<g clip-path="url(#cl2)">
<rect x="96.7" y="595.5" width="84.20" height="198.05" fill="#9bbb9b"/>
<path d="M53.00 715.99L53.75 715.69L54.49 715.49L54.50 715.49L55.24 715.39L55.98 715.31L56.73 715.26L57.00 715.24L57.48 715.22L58.22 715.18L58.97 715.15L59.72 715.13L60.46 715.11L61.21 715.09L61.95 715.08L62.00 715.08L62.70 715.07L63.45 715.05L64.19 715.04L64.94 715.03L65.68 715.02L66.43 715.01L67.18 715.01L67.92 715.00L68.67 715.00L69.42 714.99L70.00 714.99L70.16 714.99L70.91 714.99L71.65 714.99L72.40 714.99L73.15 714.99L73.89 714.99L74.64 714.99L75.38 714.99L76.13 714.99L76.88 714.99L77.62 714.99L78.37 714.99L79.12 714.99L79.86 714.99L80.61 714.99L81.35 714.99L82.10 714.99L82.94 716.64L83.79 718.24L84.63 719.76L85.47 721.22L85.90 721.94L86.32 722.62L87.16 723.96L88.01 725.24L88.85 726.46L89.40 727.23L89.69 727.63L90.54 728.77L91.38 729.79L91.70 730.12L92.22 730.62L93.07 731.39L93.91 732.05L94.75 732.57L95.20 732.76L95.60 732.90L96.44 733.18L97.28 733.41L98.13 733.61L98.97 733.75L99.82 733.83L99.90 733.84L100.66 733.88L101.50 733.92L102.35 733.95L103.19 733.98L104.03 734.00L104.88 734.00L105.00 734.00L105.72 734.00L106.56 734.00L107.41 734.00L108.25 734.00L108.80 734.05" fill="none" stroke="#1074c0" stroke-width="2.05" stroke-linejoin="round" stroke-linecap="square"/>
<path d="M188.00 715.15L188.53 714.96L189.42 714.96L190.30 714.96L191.18 714.95L192.00 714.95L192.06 714.95L192.94 714.95L193.83 714.95L194.71 714.95L195.59 714.95L196.47 714.95L197.35 714.95L198.24 714.95L199.12 714.95L200.00 714.95L219.90 714.99L220.40 679.78L220.63 662.16L220.90 644.74L221.30 632.67L221.36 631.13L221.70 623.08L222.08 618.62L222.50 615.81L222.81 614.57L223.54 612.93L223.60 612.91L224.27 613.46L225.00 614.89L225.40 615.81L225.73 616.69L226.45 619.43L227.18 622.59L227.30 623.08L227.91 625.69L228.64 629.00L229.37 632.44L229.50 633.08L230.09 636.04L230.82 639.80L231.20 641.76L231.55 643.62L232.28 647.57L233.00 651.27L233.01 651.30L233.74 654.68L234.46 657.86L235.19 660.87L235.50 662.09L235.92 663.75L236.65 666.55L237.38 669.20L238.11 671.59L238.30 672.18L238.83 673.70L239.56 675.65L240.29 677.45L241.02 679.09L241.60 680.28L241.75 680.56L242.47 681.93L243.20 683.19L243.93 684.34L244.66 685.35L244.90 685.65L245.39 686.23L246.12 687.05L246.84 687.79L247.57 688.43L248.30 688.96L249.00 688.11L249.69 687.32L250.39 686.59L251.09 685.92L251.40 685.65L251.79 685.33L252.48 684.79L253.18 684.30L253.88 683.84L254.58 683.41L254.70 683.34L255.27 682.99L255.97 682.58L256.67 682.19L257.37 681.83L258.06 681.51L258.70 681.27L258.76 681.25L259.46 681.04L260.16 680.85L260.85 680.68L261.55 680.53L262.00 680.44L262.25 680.40L262.95 680.27L263.64 680.14L264.34 680.03L265.04 679.92L265.74 679.81L266.43 679.72L267.13 679.63L267.83 679.55L268.00 679.53L268.53 679.48L269.22 679.41L269.92 679.34L270.62 679.28L271.32 679.22L272.01 679.16L272.71 679.11L273.41 679.06L274.11 679.02L274.80 678.98L275.50 678.96L275.85 646.31L275.87 644.93L276.24 627.04L276.27 626.06L276.62 614.31L276.76 611.59L276.99 609.29L277.36 606.51L277.73 605.26L277.80 605.23L278.10 605.50L278.47 606.38L278.85 607.57L279.20 608.70L279.22 608.75L279.59 609.93L279.96 611.24L280.33 612.63L280.71 614.05L281.08 615.43L281.30 616.22L281.45 616.73L281.82 618.00L282.19 619.24L282.56 620.47L282.94 621.68L283.31 622.87L283.40 623.16L283.68 624.05L284.05 625.22L284.42 626.38L284.79 627.52L285.17 628.62L285.54 629.69L285.90 630.69L285.91 630.71L286.28 631.69L286.65 632.64L287.03 633.56L287.40 634.45L287.77 635.30L288.14 636.13L288.30 636.47L288.51 636.92L288.88 637.68L289.26 638.41L289.63 639.11L290.00 639.78L291.05 643.66L291.80 646.39L292.10 647.51L293.15 651.47L294.00 654.24L294.21 654.81L295.26 657.49L296.31 659.73L296.60 660.28L297.36 661.57L298.41 663.15L299.46 664.54L299.90 665.07L300.51 665.79L301.56 666.95L302.62 667.98L303.50 668.71L303.67 668.83L304.72 669.57L305.77 670.23L306.82 670.80L307.87 671.26L307.90 671.27L308.92 671.64L309.97 671.98L311.03 672.29L312.08 672.55L313.13 672.75L313.70 672.84L314.18 672.90L315.23 673.03L316.28 673.14L317.33 673.23L318.38 673.32L319.44 673.39L320.49 673.47L321.00 673.50L321.54 673.54L322.59 673.60L323.64 673.66L324.69 673.71L325.74 673.77L326.79 673.83L326.90 673.83L327.85 673.89L328.90 673.95L329.95 674.01L331.00 674.08" fill="none" stroke="#1074c0" stroke-width="2.05" stroke-linejoin="round" stroke-linecap="square"/>
<path d="M108.80 734.05L109.15 726.37L109.40 722.15L109.50 720.71L109.85 716.54L110.10 714.25L110.20 713.42L110.55 710.89L110.90 708.82L111.25 707.25L111.40 706.75L111.61 706.16L111.96 705.38L112.31 704.85L112.40 704.75L112.66 704.52L113.01 704.31L113.30 704.25L113.36 704.25L113.71 704.43L114.06 704.84L114.40 705.45L114.41 705.47L114.76 706.49L115.11 707.86L115.46 709.33L115.70 710.25L115.81 710.65L116.16 711.84L116.51 712.96L116.86 714.02L117.22 715.01L117.57 715.95L117.92 716.83L118.27 717.66L118.62 718.45L118.90 719.05L118.97 719.19L119.32 719.91L119.67 720.61L120.02 721.29L120.37 721.94L120.72 722.56L121.07 723.14L121.42 723.69L121.77 724.21L122.10 724.65L122.12 724.68L122.47 725.12L122.83 725.54L123.18 725.93L123.53 726.30L123.88 726.65L124.23 726.98L124.58 727.28L124.93 727.56L125.28 727.82L125.63 728.06L125.98 728.28L126.10 728.35L126.33 728.48L126.68 728.67L127.03 728.85L127.38 729.02L127.73 729.19L128.08 729.34L128.44 729.48L128.79 729.62L129.14 729.74L129.49 729.86L129.84 729.96L130.19 730.06L130.54 730.15L130.89 730.23L131.00 730.25L131.24 730.30L131.59 730.37L131.94 730.43L132.29 730.49L132.64 730.55L132.99 730.61L133.34 730.66L133.69 730.70L134.05 730.75L134.40 730.79L134.75 730.82L135.10 730.86L135.45 730.89L135.80 730.91L136.15 730.93L136.50 730.95L136.86 743.92L136.90 745.15L137.21 752.23L137.40 756.15L137.57 760.00L137.92 768.47L138.20 773.65L138.28 774.72L138.63 778.44L138.99 780.73L139.20 781.65L139.35 782.21L139.70 783.47L140.06 784.34L140.30 784.55L140.41 784.51L140.77 783.87L141.12 782.67L141.48 781.23L141.50 781.15L141.84 779.65L142.19 777.86L142.55 775.98L142.90 774.13L143.00 773.65L143.26 772.39L143.61 770.68L143.97 768.99L144.33 767.34L144.68 765.72L145.04 764.14L145.39 762.59L145.75 761.09L146.10 759.64L146.20 759.25L146.46 758.22L146.82 756.83L147.17 755.46L147.53 754.13L147.88 752.84L148.24 751.60L148.59 750.41L148.95 749.28L149.31 748.22L149.40 747.95L149.66 747.22L150.02 746.26L150.37 745.35L150.73 744.48L151.08 743.66L151.44 742.89L151.79 742.17L152.15 741.51L152.51 740.90L152.60 740.75L152.86 740.35L153.22 739.83L153.57 739.34L153.93 738.89L154.28 738.47L154.64 738.08L155.00 737.73L155.35 737.41L155.71 737.12L155.80 737.05L156.06 736.86L156.42 736.62L156.77 736.39L157.13 736.18L157.49 735.98L157.84 735.79L158.20 735.62L158.55 735.46L158.91 735.32L159.26 735.18L159.62 735.06L159.98 734.95L160.33 734.85L160.69 734.75L160.70 734.75L161.04 734.67L161.40 734.59L161.75 734.51L162.11 734.44L162.47 734.37L162.82 734.30L163.18 734.25L163.53 734.19L163.89 734.14L164.24 734.09L164.60 734.05L164.90 730.57L165.19 727.23L165.20 727.15L165.49 723.99L165.78 720.81L165.80 720.65L166.08 717.61L166.38 714.39L166.67 711.39L166.97 708.80L167.10 707.85L167.27 706.78L167.56 705.11L167.86 703.76L168.15 702.70L168.40 702.05L168.45 701.94L168.75 701.36L169.04 700.92L169.30 700.65L169.34 700.62L169.64 700.39L169.93 700.23L170.23 700.15L170.30 700.15L170.52 700.18L170.82 700.29L171.12 700.49L171.41 700.76L171.50 700.85L171.71 701.12L172.01 701.60L172.30 702.17L172.60 702.76L172.70 702.95L172.89 703.31L173.19 703.87L173.49 704.44L173.78 705.00L174.08 705.55L174.37 706.10L174.67 706.64L174.97 707.16L175.26 707.66L175.56 708.14L175.86 708.59L175.90 708.65L176.15 709.01L176.45 709.43L176.74 709.83L177.04 710.21L177.34 710.58L177.63 710.93L177.93 711.26L178.23 711.57L178.52 711.86L178.82 712.12L179.10 712.35L179.11 712.36L179.41 712.58L179.71 712.79L180.00 712.98L180.30 713.17L180.59 713.34L180.89 713.50L181.19 713.65L181.48 713.79L181.78 713.91L182.08 714.03L182.37 714.14L182.67 714.23L182.96 714.31L183.10 714.35L183.26 714.39L183.56 714.46L183.85 714.53L184.15 714.59L184.45 714.65L184.74 714.71L185.04 714.76L185.33 714.81L185.63 714.86L185.93 714.90L186.22 714.95L186.52 714.99L186.82 715.02L187.11 715.06L187.41 715.09L187.70 715.12L188.00 715.15" fill="none" stroke="#1074c0" stroke-width="2.15" stroke-linejoin="round" stroke-linecap="butt"/>
<path d="M108.80 734.00L109.09 734.00L109.94 734.00L110.78 734.00L111.63 734.00L112.47 734.00L113.31 734.00L114.16 734.00L115.00 734.00L165.60 734.00L166.48 732.40L167.36 730.78L168.25 729.14L169.00 727.72L169.13 727.48L170.01 725.68L170.89 723.82L171.77 722.11L172.50 720.94L172.66 720.73L173.54 719.56L174.42 718.52L175.30 717.66L176.00 717.14L176.18 717.03L177.07 716.51L177.95 716.06L178.83 715.73L179.50 715.57L179.71 715.54L180.59 715.40L181.48 715.27L182.36 715.17L183.24 715.09L184.12 715.03L185.01 715.00L185.30 714.99L185.89 714.99L186.77 714.98L187.65 714.97L188.00 714.97" fill="none" stroke="#7c7c7c" stroke-width="1.4" stroke-linejoin="round" stroke-linecap="round"/>
<path d="M53.00 715.99L53.75 715.69L54.49 715.49L54.50 715.49L55.24 715.39L55.98 715.31L56.73 715.26L57.00 715.24L57.48 715.22L58.22 715.18L58.97 715.15L59.72 715.13L60.46 715.11L61.21 715.09L61.95 715.08L62.00 715.08L62.70 715.07L63.45 715.05L64.19 715.04L64.94 715.03L65.68 715.02L66.43 715.01L67.18 715.01L67.92 715.00L68.67 715.00L69.42 714.99L70.00 714.99L70.16 714.99L70.91 714.99L71.65 714.99L72.40 714.99L73.15 714.99L73.89 714.99L74.64 714.99L75.38 714.99L76.13 714.99L76.88 714.99L77.62 714.99L78.37 714.99L79.12 714.99L79.86 714.99L80.61 714.99L81.35 714.99L82.10 714.99L82.94 716.64L83.79 718.24L84.63 719.76L85.47 721.22L85.90 721.94L86.32 722.62L87.16 723.96L88.01 725.24L88.85 726.46L89.40 727.23L89.69 727.63L90.54 728.77L91.38 729.79L91.70 730.12L92.22 730.62L93.07 731.39L93.91 732.05L94.75 732.57L95.20 732.76L95.60 732.90L96.44 733.18L97.28 733.41L98.13 733.61L98.97 733.75L99.82 733.83L99.90 733.84L100.66 733.88L101.50 733.92L102.35 733.95L103.19 733.98L104.03 734.00L104.88 734.00L105.00 734.00L105.72 734.00L106.56 734.00L107.41 734.00L108.25 734.00L108.80 734.00" fill="none" stroke="#7a7a7a" stroke-opacity="0.87" stroke-width="2.05" stroke-linejoin="round" stroke-linecap="square"/>
<path d="M188.00 714.97L188.53 714.96L189.42 714.96L190.30 714.96L191.18 714.95L192.00 714.95L192.06 714.95L192.94 714.95L193.83 714.95L194.71 714.95L195.59 714.95L196.47 714.95L197.35 714.95L198.24 714.95L199.12 714.95L200.00 714.95L219.90 714.99L220.40 679.78L220.63 662.16L220.90 644.74L221.30 632.67L221.36 631.13L221.70 623.08L222.08 618.62L222.50 615.81L222.81 614.57L223.54 612.93L223.60 612.91L224.27 613.46L225.00 614.89L225.40 615.81L225.73 616.69L226.45 619.43L227.18 622.59L227.30 623.08L227.91 625.69L228.64 629.00L229.37 632.44L229.50 633.08L230.09 636.04L230.82 639.80L231.20 641.76L231.55 643.62L232.28 647.57L233.00 651.27L233.01 651.30L233.74 654.68L234.46 657.86L235.19 660.87L235.50 662.09L235.92 663.75L236.65 666.55L237.38 669.20L238.11 671.59L238.30 672.18L238.83 673.70L239.56 675.65L240.29 677.45L241.02 679.09L241.60 680.28L241.75 680.56L242.47 681.93L243.20 683.19L243.93 684.34L244.66 685.35L244.90 685.65L245.39 686.23L246.12 687.05L246.84 687.79L247.57 688.43L248.30 688.96L249.00 688.11L249.69 687.32L250.39 686.59L251.09 685.92L251.40 685.65L251.79 685.33L252.48 684.79L253.18 684.30L253.88 683.84L254.58 683.41L254.70 683.34L255.27 682.99L255.97 682.58L256.67 682.19L257.37 681.83L258.06 681.51L258.70 681.27L258.76 681.25L259.46 681.04L260.16 680.85L260.85 680.68L261.55 680.53L262.00 680.44L262.25 680.40L262.95 680.27L263.64 680.14L264.34 680.03L265.04 679.92L265.74 679.81L266.43 679.72L267.13 679.63L267.83 679.55L268.00 679.53L268.53 679.48L269.22 679.41L269.92 679.34L270.62 679.28L271.32 679.22L272.01 679.16L272.71 679.11L273.41 679.06L274.11 679.02L274.80 678.98L275.50 678.96L275.85 646.31L275.87 644.93L276.24 627.04L276.27 626.06L276.62 614.31L276.76 611.59L276.99 609.29L277.36 606.51L277.73 605.26L277.80 605.23L278.10 605.50L278.47 606.38L278.85 607.57L279.20 608.70L279.22 608.75L279.59 609.93L279.96 611.24L280.33 612.63L280.71 614.05L281.08 615.43L281.30 616.22L281.45 616.73L281.82 618.00L282.19 619.24L282.56 620.47L282.94 621.68L283.31 622.87L283.40 623.16L283.68 624.05L284.05 625.22L284.42 626.38L284.79 627.52L285.17 628.62L285.54 629.69L285.90 630.69L285.91 630.71L286.28 631.69L286.65 632.64L287.03 633.56L287.40 634.45L287.77 635.30L288.14 636.13L288.30 636.47L288.51 636.92L288.88 637.68L289.26 638.41L289.63 639.11L290.00 639.78L291.05 643.66L291.80 646.39L292.10 647.51L293.15 651.47L294.00 654.24L294.21 654.81L295.26 657.49L296.31 659.73L296.60 660.28L297.36 661.57L298.41 663.15L299.46 664.54L299.90 665.07L300.51 665.79L301.56 666.95L302.62 667.98L303.50 668.71L303.67 668.83L304.72 669.57L305.77 670.23L306.82 670.80L307.87 671.26L307.90 671.27L308.92 671.64L309.97 671.98L311.03 672.29L312.08 672.55L313.13 672.75L313.70 672.84L314.18 672.90L315.23 673.03L316.28 673.14L317.33 673.23L318.38 673.32L319.44 673.39L320.49 673.47L321.00 673.50L321.54 673.54L322.59 673.60L323.64 673.66L324.69 673.71L325.74 673.77L326.79 673.83L326.90 673.83L327.85 673.89L328.90 673.95L329.95 674.01L331.00 674.08" fill="none" stroke="#7a7a7a" stroke-opacity="0.87" stroke-width="2.05" stroke-linejoin="round" stroke-linecap="square"/>
</g>
<rect x="43.50" y="599.80" width="159.3" height="42.70" rx="1.8" fill="#fff" fill-opacity="0.8" stroke="#c4c4c4" stroke-opacity="0.85" stroke-width="0.9"/>
<rect x="46.60" y="604.00" width="18.9" height="7.0" fill="#9bbb9b"/>
<text class="t" x="73.30" y="610.65">Recovered wavelet position</text>
<line x1="47.70" x2="65.50" y1="621.05" y2="621.05" stroke="#1074c0" stroke-width="2.15" stroke-linecap="square"/>
<text class="t" x="73.30" y="623.95">After wavelet injection</text>
<line x1="47.70" x2="65.50" y1="634.35" y2="634.35" stroke="#6e6e6e" stroke-width="1.4" stroke-linecap="square"/>
<text class="t" x="73.30" y="637.25">Without wavelet injection</text>
<rect x="39.4" y="595.5" width="305.20" height="198.05" fill="none" stroke="#3c3c3c" stroke-width="0.75"/>
<g stroke="#3c3c3c" stroke-width="0.75">
<line x1="53.00" x2="53.00" y1="793.55" y2="796.75"/>
<line x1="87.72" x2="87.72" y1="793.55" y2="796.75"/>
<line x1="122.45" x2="122.45" y1="793.55" y2="796.75"/>
<line x1="157.17" x2="157.17" y1="793.55" y2="796.75"/>
<line x1="191.89" x2="191.89" y1="793.55" y2="796.75"/>
<line x1="226.61" x2="226.61" y1="793.55" y2="796.75"/>
<line x1="261.34" x2="261.34" y1="793.55" y2="796.75"/>
<line x1="296.06" x2="296.06" y1="793.55" y2="796.75"/>
<line x1="330.78" x2="330.78" y1="793.55" y2="796.75"/>
<line x1="36.20" x2="39.4" y1="766.60" y2="766.60"/>
<line x1="36.20" x2="39.4" y1="734.60" y2="734.60"/>
<line x1="36.20" x2="39.4" y1="702.60" y2="702.60"/>
<line x1="36.20" x2="39.4" y1="670.60" y2="670.60"/>
<line x1="36.20" x2="39.4" y1="638.60" y2="638.60"/>
<line x1="36.20" x2="39.4" y1="606.60" y2="606.60"/>
</g>
<g class="t">
<text x="53.00" y="807.25" text-anchor="middle">0</text>
<text x="87.72" y="807.25" text-anchor="middle">2500</text>
<text x="122.45" y="807.25" text-anchor="middle">5000</text>
<text x="157.17" y="807.25" text-anchor="middle">7500</text>
<text x="191.89" y="807.25" text-anchor="middle">10000</text>
<text x="226.61" y="807.25" text-anchor="middle">12500</text>
<text x="261.34" y="807.25" text-anchor="middle">15000</text>
<text x="296.06" y="807.25" text-anchor="middle">17500</text>
<text x="330.78" y="807.25" text-anchor="middle">20000</text>
<text x="32.80" y="770.05" text-anchor="end">0.12</text>
<text x="32.80" y="738.05" text-anchor="end">0.14</text>
<text x="32.80" y="706.05" text-anchor="end">0.16</text>
<text x="32.80" y="674.05" text-anchor="end">0.18</text>
<text x="32.80" y="642.05" text-anchor="end">0.20</text>
<text x="32.80" y="610.05" text-anchor="end">0.22</text>
<text x="192.00" y="819.65" text-anchor="middle">Time in Milliseconds</text>
<text transform="translate(7.0 694.42) rotate(-90)" text-anchor="middle">Aircharge</text>
</g>
<path d="M392.60 694.75L420.41 694.75L420.41 784.95L503.84 784.95L503.84 694.75L587.27 694.75L587.27 604.55L628.99 604.55L628.99 730.83L670.70 730.83" fill="none" stroke="#1074c0" stroke-width="1.85" stroke-linejoin="miter" stroke-linecap="square"/>
<path d="M392.60 694.75L420.41 694.75L420.41 784.95L503.84 784.95L503.84 694.75L587.27 694.75L587.27 604.55L628.99 604.55L628.99 730.83L670.70 730.83" fill="none" stroke="#7a7a7a" stroke-opacity="0.9" stroke-width="1.85" stroke-linejoin="miter" stroke-linecap="square"/>
<rect x="383.60" y="600.10" width="149.4" height="29.10" rx="1.8" fill="#fff" fill-opacity="0.8" stroke="#c4c4c4" stroke-opacity="0.85" stroke-width="0.9"/>
<line x1="387.30" x2="405.10" y1="607.75" y2="607.75" stroke="#1074c0" stroke-width="2.15" stroke-linecap="square"/>
<text class="t" x="412.90" y="610.65">After wavelet injection</text>
<line x1="387.30" x2="405.10" y1="621.05" y2="621.05" stroke="#6e6e6e" stroke-width="1.4" stroke-linecap="square"/>
<text class="t" x="412.90" y="623.95">Without wavelet injection</text>
<rect x="379.0" y="595.5" width="305.50" height="198.05" fill="none" stroke="#3c3c3c" stroke-width="0.75"/>
<line x1="684.5" x2="684.5" y1="595.10" y2="793.95" stroke="#333" stroke-width="1"/>
<g stroke="#3c3c3c" stroke-width="0.75">
<line x1="392.60" x2="392.60" y1="793.55" y2="796.75"/>
<line x1="427.36" x2="427.36" y1="793.55" y2="796.75"/>
<line x1="462.12" x2="462.12" y1="793.55" y2="796.75"/>
<line x1="496.89" x2="496.89" y1="793.55" y2="796.75"/>
<line x1="531.65" x2="531.65" y1="793.55" y2="796.75"/>
<line x1="566.41" x2="566.41" y1="793.55" y2="796.75"/>
<line x1="601.18" x2="601.18" y1="793.55" y2="796.75"/>
<line x1="635.94" x2="635.94" y1="793.55" y2="796.75"/>
<line x1="670.70" x2="670.70" y1="793.55" y2="796.75"/>
<line x1="375.80" x2="379.0" y1="784.90" y2="784.90"/>
<line x1="375.80" x2="379.0" y1="748.82" y2="748.82"/>
<line x1="375.80" x2="379.0" y1="712.74" y2="712.74"/>
<line x1="375.80" x2="379.0" y1="676.66" y2="676.66"/>
<line x1="375.80" x2="379.0" y1="640.58" y2="640.58"/>
<line x1="375.80" x2="379.0" y1="604.50" y2="604.50"/>
</g>
<g class="t">
<text x="392.60" y="807.25" text-anchor="middle">0</text>
<text x="427.36" y="807.25" text-anchor="middle">2500</text>
<text x="462.12" y="807.25" text-anchor="middle">5000</text>
<text x="496.89" y="807.25" text-anchor="middle">7500</text>
<text x="531.65" y="807.25" text-anchor="middle">10000</text>
<text x="566.41" y="807.25" text-anchor="middle">12500</text>
<text x="601.18" y="807.25" text-anchor="middle">15000</text>
<text x="635.94" y="807.25" text-anchor="middle">17500</text>
<text x="670.70" y="807.25" text-anchor="middle">20000</text>
<text x="372.40" y="788.35" text-anchor="end">20</text>
<text x="372.40" y="752.27" text-anchor="end">22</text>
<text x="372.40" y="716.19" text-anchor="end">24</text>
<text x="372.40" y="680.11" text-anchor="end">26</text>
<text x="372.40" y="644.03" text-anchor="end">28</text>
<text x="372.40" y="607.95" text-anchor="end">30</text>
<text x="531.75" y="819.65" text-anchor="middle">Time in Milliseconds</text>
<text transform="translate(355.1 694.42) rotate(-90)" text-anchor="middle">Load</text>
</g>
</svg>
<div class="cap" style="left:14.9px;top:242.04px">(a) Daubechie 4 wavelet in <i>aircharge</i></div>
<div class="cap" style="left:374.3px;top:242.04px">(b) Daubechie 4 wavelet in <i>load</i></div>
<div class="cap" style="left:14.9px;top:540.34px">(c) Mexican hat wavelet in <i>aircharge</i></div>
<div class="cap" style="left:372.8px;top:540.34px">(d) Mexican hat wavelet in <i>load</i></div>
<div class="cap" style="left:44.0px;top:838.44px">(e) Haar wavelet in <i>aircharge</i></div>
<div class="cap" style="left:404.3px;top:838.54px">(f) Haar wavelet in <i>load</i></div>
</div></body></html>
